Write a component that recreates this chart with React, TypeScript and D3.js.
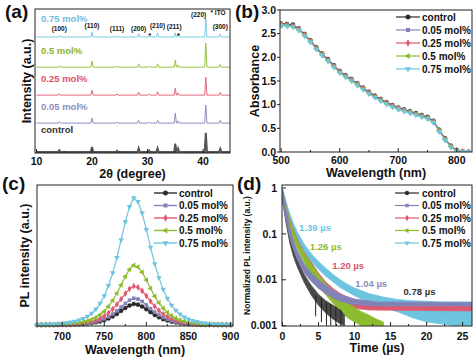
import React from 'react';
import * as d3 from 'd3';

const FONT = "'Liberation Sans', Arial, Helvetica, sans-serif";

const seriesNames = ['control', '0.05 mol%', '0.25 mol%', '0.5 mol%', '0.75 mol%'];
const seriesColors = ['#2b2b2b', '#8383b8', '#df5a70', '#8dbd2f', '#6dc5e0'];
const xrdLabelColors = ['#333333', '#8a8ec0', '#dc5068', '#8db42c', '#72b9dc'];

// ---------- (a) XRD ----------
const xrdPeakPos = [14.1, 20.0, 24.5, 28.4, 30.3, 31.8, 35.0, 35.5, 40.5, 43.1];
const xrdOffsets = [0.04, 1.08, 2.09, 3.1, 4.19];
const xrdHeights = [
  [0.06, 0.18, 0.04, 0.13, 0.05, 0.13, 0.3, 0.12, 0.69, 0.11],
  [0.05, 0.18, 0.04, 0.1, 0.04, 0.1, 0.36, 0.08, 0.65, 0.1],
  [0.05, 0.18, 0.04, 0.11, 0.04, 0.12, 0.25, 0.08, 0.65, 0.1],
  [0.05, 0.22, 0.04, 0.12, 0.04, 0.12, 0.25, 0.08, 0.87, 0.1],
  [0.05, 0.18, 0.04, 0.12, 0.04, 0.14, 0.15, 0.1, 0.69, 0.1],
];
const xrdHkl = ['(100)', '(110)', '(111)', '(200)', '(210)', '(211)', '(220)', '(300)'];
const xrdHklPos = [14.1, 20.0, 24.5, 28.4, 31.8, 35.0, 40.5, 43.1];
const xrdHklLift = [0.2, 0.34, 0.2, 0.22, 0.32, 0.3, 0.72, 0.3];
const xrdHklShift = [0, 0, 0, 0, 0, -0.2, -1.3, 0];
const itoPos = [30.3, 35.5];
const xrdTicks = [10, 20, 30, 40];

// ---------- (b) Absorbance ----------
const absWavelengths = [500, 510, 520, 530, 540, 550, 560, 570, 580, 590, 600, 610, 620, 630, 640, 650, 660, 670, 680, 690, 700, 710, 720, 730, 740, 750, 760, 770, 780, 790, 800, 810, 820];
const absControl = [2.71, 2.70, 2.69, 2.61, 2.49, 2.36, 2.21, 2.08, 1.96, 1.83, 1.71, 1.62, 1.54, 1.45, 1.36, 1.27, 1.19, 1.12, 1.05, 0.99, 0.94, 0.90, 0.86, 0.82, 0.78, 0.74, 0.66, 0.47, 0.29, 0.13, 0.04, 0.01, 0.0];
const abs005 = [2.70, 2.69, 2.67, 2.60, 2.48, 2.35, 2.20, 2.07, 1.95, 1.82, 1.70, 1.61, 1.53, 1.44, 1.35, 1.26, 1.18, 1.11, 1.04, 0.98, 0.93, 0.89, 0.85, 0.81, 0.77, 0.73, 0.65, 0.46, 0.28, 0.12, 0.03, 0.01, 0.0];
const abs025 = [2.69, 2.68, 2.66, 2.59, 2.47, 2.34, 2.19, 2.06, 1.94, 1.81, 1.69, 1.60, 1.52, 1.43, 1.34, 1.25, 1.17, 1.10, 1.03, 0.97, 0.92, 0.88, 0.84, 0.80, 0.76, 0.72, 0.64, 0.45, 0.27, 0.12, 0.03, 0.01, 0.0];
const abs050 = [2.68, 2.67, 2.65, 2.58, 2.46, 2.33, 2.18, 2.05, 1.93, 1.80, 1.68, 1.59, 1.51, 1.42, 1.33, 1.24, 1.16, 1.09, 1.02, 0.96, 0.91, 0.87, 0.83, 0.79, 0.75, 0.71, 0.63, 0.44, 0.26, 0.11, 0.03, 0.01, 0.0];
const abs075 = [2.67, 2.66, 2.64, 2.57, 2.45, 2.32, 2.17, 2.04, 1.92, 1.79, 1.67, 1.58, 1.50, 1.41, 1.32, 1.23, 1.15, 1.08, 1.01, 0.95, 0.90, 0.86, 0.82, 0.78, 0.74, 0.70, 0.62, 0.43, 0.25, 0.10, 0.02, 0.0, 0.0];
const absSeries = [absControl, abs005, abs025, abs050, abs075];
const absXTicks = [500, 600, 700, 800];
const absYTicks = [0, 0.5, 1.0, 1.5, 2.0, 2.5, 3.0];

// ---------- (c) PL ----------
const plWavelengths = [670, 675, 680, 685, 690, 695, 700, 705, 710, 715, 720, 725, 730, 735, 740, 745, 750, 755, 760, 765, 770, 775, 780, 785, 790, 795, 800, 805, 810, 815, 820, 825, 830, 835, 840, 845, 850, 855, 860, 865, 870, 875, 880, 885, 890, 895, 900];
const plControl = [0, 0.1, 0.1, 0.1, 0.1, 0.2, 0.2, 0.3, 0.4, 0.5, 0.6, 0.8, 1.1, 1.5, 2.1, 2.8, 3.8, 5.1, 6.8, 8.7, 11.1, 13.4, 15.3, 16.5, 16.0, 14.5, 12.4, 10.1, 7.9, 6.1, 4.6, 3.5, 2.6, 1.9, 1.4, 1.0, 0.8, 0.6, 0.4, 0.3, 0.2, 0.2, 0.1, 0.1, 0.1, 0.1, 0];
const pl005 = [0.1, 0.1, 0.1, 0.1, 0.2, 0.2, 0.3, 0.4, 0.5, 0.6, 0.8, 1.1, 1.4, 1.9, 2.6, 3.6, 4.8, 6.5, 8.6, 11.1, 14.1, 17.0, 19.5, 21.0, 20.4, 18.5, 15.8, 12.8, 10.1, 7.8, 5.9, 4.4, 3.3, 2.4, 1.8, 1.3, 1.0, 0.7, 0.5, 0.4, 0.3, 0.2, 0.2, 0.1, 0.1, 0.1, 0.1];
const pl025 = [0.1, 0.1, 0.2, 0.2, 0.2, 0.3, 0.4, 0.5, 0.7, 0.9, 1.2, 1.5, 2.1, 2.8, 3.8, 5.2, 7.0, 9.5, 12.5, 16.2, 20.4, 24.7, 28.4, 30.5, 29.6, 26.8, 22.9, 18.6, 14.6, 11.3, 8.5, 6.4, 4.7, 3.5, 2.6, 1.9, 1.4, 1.1, 0.8, 0.6, 0.4, 0.3, 0.2, 0.2, 0.2, 0.1, 0.1];
const pl050 = [0.1, 0.2, 0.2, 0.3, 0.4, 0.5, 0.6, 0.8, 1.0, 1.4, 1.8, 2.4, 3.2, 4.3, 5.9, 8.0, 10.8, 14.6, 19.3, 24.9, 31.5, 38.1, 43.7, 47.0, 45.6, 41.4, 35.3, 28.7, 22.6, 17.4, 13.2, 9.9, 7.3, 5.4, 4.0, 3.0, 2.2, 1.6, 1.2, 0.9, 0.7, 0.5, 0.4, 0.3, 0.2, 0.2, 0.1];
const pl075 = [0.3, 0.4, 0.5, 0.6, 0.8, 1.0, 1.3, 1.7, 2.2, 2.9, 3.8, 5.0, 6.8, 9.2, 12.5, 17, 23, 31, 41, 53, 67, 81, 93, 100, 97, 88, 75, 61, 48, 37, 28, 21, 15.5, 11.5, 8.5, 6.3, 4.7, 3.5, 2.6, 1.9, 1.4, 1.0, 0.8, 0.6, 0.5, 0.4, 0.3];
const plSeries = [plControl, pl005, pl025, pl050, pl075];
const plXTicks = [700, 750, 800, 850, 900];

// ---------- (d) TRPL (noisy band: time, lower, upper) ----------
const trplControl = [[0, 0.55, 0.85], [0.5, 0.17, 0.27], [1, 0.065, 0.1], [1.5, 0.033, 0.05], [2, 0.02, 0.03], [3, 0.0088, 0.013], [4, 0.0046, 0.0075], [5, 0.0028, 0.0048], [6, 0.0019, 0.0035], [7, 0.0014, 0.0028], [8, 0.0011, 0.0022], [8.6, 0.001, 0.0017]];
const trpl005 = [[0, 0.5, 0.9], [0.5, 0.2, 0.35], [1, 0.085, 0.14], [1.5, 0.047, 0.075], [2, 0.029, 0.045], [3, 0.014, 0.022], [4, 0.0092, 0.014], [5, 0.0065, 0.01], [6, 0.005, 0.0076], [7, 0.004, 0.006], [8, 0.0034, 0.0048], [10, 0.0029, 0.0038], [13, 0.0027, 0.0033], [26.3, 0.0027, 0.0032]];
const trpl025 = [[0, 0.5, 0.9], [0.5, 0.25, 0.4], [1, 0.14, 0.21], [1.5, 0.085, 0.13], [2, 0.055, 0.08], [3, 0.027, 0.04], [4, 0.015, 0.024], [5, 0.009, 0.014], [6, 0.006, 0.009], [7, 0.0042, 0.0065], [8, 0.0032, 0.005], [9, 0.0027, 0.0042], [10, 0.0024, 0.0036], [12, 0.0022, 0.0029], [26.3, 0.0021, 0.0027]];
const trpl050 = [[0, 0.5, 0.9], [0.5, 0.25, 0.4], [1, 0.13, 0.2], [1.5, 0.08, 0.12], [2, 0.05, 0.075], [3, 0.024, 0.038], [4, 0.013, 0.022], [5, 0.0075, 0.013], [6, 0.0047, 0.0082], [7, 0.0031, 0.0056], [8, 0.0021, 0.0041], [9, 0.0015, 0.0031], [10, 0.0012, 0.0025], [11, 0.001, 0.002], [12, 0.001, 0.0017], [13, 0.001, 0.0014], [14, 0.001, 0.0012]];
const trpl075 = [[0, 0.6, 1.0], [0.5, 0.3, 0.5], [1, 0.17, 0.28], [1.5, 0.11, 0.17], [2, 0.075, 0.115], [3, 0.04, 0.06], [4, 0.025, 0.037], [5, 0.017, 0.025], [6, 0.012, 0.018], [7, 0.009, 0.013], [8, 0.0068, 0.01], [9, 0.0055, 0.008], [10, 0.0045, 0.0066], [12, 0.0032, 0.005], [14, 0.0025, 0.0042], [16, 0.002, 0.0037], [18, 0.0015, 0.0035], [20, 0.0012, 0.0034], [22, 0.0011, 0.0033], [24, 0.001, 0.0033], [26.3, 0.001, 0.0033]];
const trplSeries = [trplControl, trpl005, trpl025, trpl050, trpl075];
const trplDrawOrder = [4, 2, 3, 0, 1];
const trplControlSpikes = [[4.6, 0.0045, 0.0016], [5.4, 0.004, 0.0012], [6.1, 0.0032, 0.001], [6.7, 0.003, 0.001], [7.4, 0.0026, 0.001], [8.1, 0.0022, 0.001]];
const trplLifetimes = ['0.78 µs', '1.04 µs', '1.20 µs', '1.26 µs', '1.39 µs'];
const trplLabelAt = [[16.8, 0.0046], [10.1, 0.0069], [6.9, 0.017], [3.8, 0.044], [2.3, 0.115]];
const trplXTicks = [0, 5, 10, 15, 20, 25];
const trplYTicks = [1, 0.1, 0.01, 0.001];
const trplYTickLabels = ['1', '0.1', '0.01', '0.001'];

const symbolTypes = [d3.symbolCircle, d3.symbolSquare, d3.symbolDiamond, d3.symbolTriangle, d3.symbolTriangle];
const symbolRot = [0, 0, 0, -90, 180];

function Marker({ x, y, i, size }: { x: number; y: number; i: number; size: number }) {
  const p = d3.symbol().type(symbolTypes[i]).size(size)();
  return <path d={p || ''} transform={`translate(${x},${y}) rotate(${symbolRot[i]})`} fill={seriesColors[i]} stroke={i === 0 ? '#111' : 'none'} strokeWidth={0.4} />;
}

const tickStyle = { fontFamily: FONT, fontWeight: 700, fontSize: 10.5, fill: '#111' } as const;
const titleStyle = { fontFamily: FONT, fontWeight: 700, fontSize: 12.5, fill: '#111' } as const;
const panelStyle = { fontFamily: FONT, fontWeight: 700, fontSize: 19, fill: '#111' } as const;

function PanelA() {
  const L = 35, R = 230, T = 9, B = 153;
  const x = d3.scaleLinear().domain([10, 45]).range([36.5, 230.8]);
  const y = d3.scaleLinear().domain([0, 5.2]).range([B, T]);
  const traces = xrdHeights.map((hs, si) => {
    const pts: [number, number][] = [[10, 0]];
    xrdPeakPos.forEach((p, k) => {
      pts.push([p - 0.2, 0], [p, hs[k]], [p + 0.2, 0]);
    });
    pts.push([45, 0]);
    const line = d3.line<[number, number]>().x(d => x(d[0])).y(d => y(d[1] + xrdOffsets[si]));
    return line(pts) || '';
  });
  const minor = d3.range(15, 45, 10);
  return (
    <g>
      <defs>
        <clipPath id="clipA"><rect x={L} y={T} width={R - L} height={B - T} /></clipPath>
      </defs>
      <g clipPath="url(#clipA)">
        {traces.map((d, i) => (
          <path key={i} d={d} fill="none" stroke={i === 0 ? '#555' : seriesColors[i]} strokeWidth={i === 0 ? 2 : 0.9} />
        ))}
      </g>
      {seriesNames.map((n, i) => (
        <text key={n} x={41} y={y(xrdOffsets[i]) - (i === 0 ? 19 : i === 4 ? 15 : 13.5)} style={{ fontFamily: FONT, fontWeight: 700, fontSize: 9.5 }} fill={xrdLabelColors[i]}>{n}</text>
      ))}
      {xrdHkl.map((t, k) => (
        <text key={t} x={x(xrdHklPos[k] + xrdHklShift[k])} y={y(xrdOffsets[4] + xrdHklLift[k])} textAnchor="middle" style={{ fontFamily: FONT, fontWeight: 700, fontSize: 6.5 }} fill="#111">{t}</text>
      ))}
      {itoPos.map((p) => (
        <text key={p} x={x(p) + 0.5} y={y(xrdOffsets[4]) + 1.5} textAnchor="middle" style={{ fontFamily: FONT, fontWeight: 700, fontSize: 8 }} fill="#111">*</text>
      ))}
      <text x={x(42.7)} y={y(xrdOffsets[4] + 0.8)} textAnchor="middle" style={{ fontFamily: FONT, fontWeight: 700, fontSize: 6.5 }} fill="#111">* ITO</text>
      <rect x={L} y={T} width={R - L} height={B - T} fill="none" stroke="#222" strokeWidth={1} />
      {xrdTicks.map(t => (
        <g key={t}>
          <line x1={x(t)} x2={x(t)} y1={B} y2={B - 4} stroke="#222" />
          <text x={x(t)} y={165} textAnchor="middle" style={tickStyle}>{t}</text>
        </g>
      ))}
      {minor.map(t => <line key={t} x1={x(t)} x2={x(t)} y1={B} y2={B - 2} stroke="#222" />)}
      <text x={(L + R) / 2} y={178} textAnchor="middle" style={titleStyle}>2θ (degree)</text>
      <text transform={`translate(31,${(T + B) / 2}) rotate(-90)`} textAnchor="middle" style={titleStyle}>Intensity (a.u.)</text>
      <text x={5} y={18} style={panelStyle}>(a)</text>
    </g>
  );
}

function PanelB() {
  const L = 280, R = 472, T = 10, B = 152;
  const x = d3.scaleLinear().domain([498, 826]).range([L, R]);
  const y = d3.scaleLinear().domain([0, 3]).range([B, T]);
  const line = d3.line<number>().x((_, k) => x(absWavelengths[k])).y(d => y(d));
  const minor = [550, 650, 750];
  return (
    <g>
      <defs>
        <clipPath id="clipB"><rect x={L} y={T - 3} width={R - L} height={B - T + 3} /></clipPath>
      </defs>
      <g clipPath="url(#clipB)">
        {absSeries.map((s, i) => (
          <g key={i}>
            <path d={line(s) || ''} fill="none" stroke={seriesColors[i]} strokeWidth={1} />
            {s.map((v, k) => <Marker key={k} x={x(absWavelengths[k])} y={y(v)} i={i} size={14} />)}
          </g>
        ))}
      </g>
      <rect x={L} y={T} width={R - L} height={B - T} fill="none" stroke="#222" strokeWidth={1} />
      {absXTicks.map(t => (
        <g key={t}>
          <line x1={x(t)} x2={x(t)} y1={B} y2={B - 4} stroke="#222" />
          <text x={x(t)} y={164} textAnchor="middle" style={tickStyle}>{t}</text>
        </g>
      ))}
      {minor.map(t => <line key={t} x1={x(t)} x2={x(t)} y1={B} y2={B - 2} stroke="#222" />)}
      {absYTicks.map(t => (
        <g key={t}>
          <line x1={L} x2={L - 3} y1={y(t)} y2={y(t)} stroke="#222" />
          <text x={L - 4} y={y(t) + 3.6} textAnchor="end" style={tickStyle}>{t.toFixed(1)}</text>
        </g>
      ))}
      {seriesNames.map((n, i) => {
        const yy = 17 + i * 13;
        return (
          <g key={n}>
            <line x1={396} x2={420} y1={yy} y2={yy} stroke={seriesColors[i]} strokeWidth={1.2} />
            <Marker x={408} y={yy} i={i} size={16} />
            <text x={422} y={yy + 3.6} style={{ fontFamily: FONT, fontWeight: 700, fontSize: 10 }} fill="#111">{n}</text>
          </g>
        );
      })}
      <text x={(L + R) / 2} y={177} textAnchor="middle" style={titleStyle}>Wavelength (nm)</text>
      <text transform={`translate(259,${(T + B) / 2}) rotate(-90)`} textAnchor="middle" style={titleStyle}>Absorbance</text>
      <text x={235} y={18} style={panelStyle}>(b)</text>
    </g>
  );
}

function PanelC() {
  const L = 37, R = 233, T = 185, B = 326;
  const x = d3.scaleLinear().domain([670, 903]).range([L, R]);
  const y = d3.scaleLinear().domain([0, 110]).range([B - 1, T]);
  const line = d3.line<number>().x((_, k) => x(plWavelengths[k])).y(d => y(d));
  const minor = [725, 775, 825, 875];
  return (
    <g>
      {plSeries.map((s, i) => (
        <g key={i}>
          <path d={line(s) || ''} fill="none" stroke={seriesColors[i]} strokeWidth={1.2} />
          {s.map((v, k) => <Marker key={k} x={x(plWavelengths[k])} y={y(v)} i={i} size={13} />)}
        </g>
      ))}
      <rect x={L} y={T} width={R - L} height={B - T} fill="none" stroke="#222" strokeWidth={1} />
      {plXTicks.map(t => (
        <g key={t}>
          <line x1={x(t)} x2={x(t)} y1={B} y2={B - 4} stroke="#222" />
          <text x={x(t)} y={340} textAnchor="middle" style={tickStyle}>{t}</text>
        </g>
      ))}
      {minor.map(t => <line key={t} x1={x(t)} x2={x(t)} y1={B} y2={B - 2} stroke="#222" />)}
      {seriesNames.map((n, i) => {
        const yy = 193 + i * 12.5;
        return (
          <g key={n}>
            <line x1={154} x2={177} y1={yy} y2={yy} stroke={seriesColors[i]} strokeWidth={1.4} />
            <Marker x={165.5} y={yy} i={i} size={16} />
            <text x={179} y={yy + 3.6} style={{ fontFamily: FONT, fontWeight: 700, fontSize: 10 }} fill="#111">{n}</text>
          </g>
        );
      })}
      <text x={(L + R) / 2} y={354} textAnchor="middle" style={titleStyle}>Wavelength (nm)</text>
      <text transform={`translate(29,${(T + B) / 2}) rotate(-90)`} textAnchor="middle" style={titleStyle}>PL intensity (a.u.)</text>
      <text x={2} y={190} style={panelStyle}>(c)</text>
    </g>
  );
}

function PanelD() {
  const L = 282, R = 472, T = 185, B = 326;
  const x = d3.scaleLinear().domain([0, 26.3]).range([282.5, R]);
  const y = d3.scaleLog().domain([0.001, 1]).range([325.7, 188]);
  const area = d3.area<number[]>().x(d => x(d[0])).y0(d => y(d[1])).y1(d => y(d[2]));
  const mid = d3.line<number[]>().x(d => x(d[0])).y(d => y(Math.sqrt(d[1] * d[2])));
  const minor = [2.5, 7.5, 12.5, 17.5, 22.5];
  const labelColors = ['#333', '#8a8cc0', '#d9536b', '#8dbb2f', '#6cc4df'];
  return (
    <g>
      <defs>
        <clipPath id="clipD"><rect x={L} y={T} width={R - L} height={B - T} /></clipPath>
      </defs>
      <g clipPath="url(#clipD)">
        {trplDrawOrder.map(i => (
          <g key={i} opacity={i === 0 ? 0.85 : 1}>
            <path d={area(trplSeries[i]) || ''} fill={seriesColors[i]} stroke={seriesColors[i]} strokeWidth={0.8} />
            <path d={mid(trplSeries[i]) || ''} fill="none" stroke={d3.color(seriesColors[i])!.darker(0.4).toString()} strokeWidth={0.5} strokeDasharray="1 1.5" />
          </g>
        ))}
        {trplControlSpikes.map((s, k) => (
          <line key={k} x1={x(s[0])} x2={x(s[0])} y1={y(s[1])} y2={y(s[2])} stroke="#222" strokeWidth={1} />
        ))}
      </g>
      {trplLifetimes.map((t, i) => (
        <text key={t} x={x(trplLabelAt[i][0])} y={y(trplLabelAt[i][1])} style={{ fontFamily: FONT, fontWeight: 700, fontSize: 9.5 }} fill={labelColors[i]}>{t}</text>
      ))}
      <rect x={L} y={T} width={R - L} height={B - T} fill="none" stroke="#222" strokeWidth={1} />
      {trplXTicks.map(t => (
        <g key={t}>
          <line x1={x(t)} x2={x(t)} y1={B} y2={B - 4} stroke="#222" />
          <text x={x(t)} y={340} textAnchor="middle" style={tickStyle}>{t}</text>
        </g>
      ))}
      {minor.map(t => <line key={t} x1={x(t)} x2={x(t)} y1={B} y2={B - 2} stroke="#222" />)}
      {trplYTicks.map((t, k) => (
        <g key={t}>
          <line x1={L} x2={L + 4} y1={y(t)} y2={y(t)} stroke="#222" />
          <text x={L - 5} y={y(t) + 3.6} textAnchor="end" style={tickStyle}>{trplYTickLabels[k]}</text>
        </g>
      ))}
      {seriesNames.map((n, i) => {
        const yy = 193 + i * 12.5;
        return (
          <g key={n}>
            <line x1={395} x2={419} y1={yy} y2={yy} stroke={seriesColors[i]} strokeWidth={1.2} />
            <Marker x={407} y={yy} i={i} size={12} />
            <text x={422} y={yy + 3.6} style={{ fontFamily: FONT, fontWeight: 700, fontSize: 10 }} fill="#111">{n}</text>
          </g>
        );
      })}
      <text x={(L + R) / 2} y={352} textAnchor="middle" style={titleStyle}>Time (µs)</text>
      <text transform={`translate(250,${(T + B) / 2}) rotate(-90)`} textAnchor="middle" style={{ fontFamily: FONT, fontWeight: 700, fontSize: 8.5, fill: '#111' }}>Normalized PL intensity (a.u.)</text>
      <text x={237} y={190} style={panelStyle}>(d)</text>
    </g>
  );
}

export default function App() {
  return (
    <svg width={474} height={357} viewBox="0 0 474 357" style={{ position: 'absolute', left: 0, top: 0, background: '#fff' }}>
      <rect width={474} height={357} fill="#fff" />
      <PanelA />
      <PanelB />
      <PanelC />
      <PanelD />
    </svg>
  );
}
